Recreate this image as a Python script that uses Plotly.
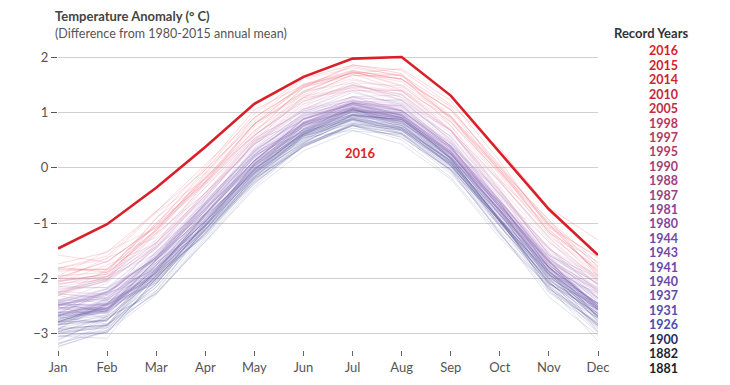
import plotly.graph_objects as go

months = ["Jan", "Feb", "Mar", "Apr", "May", "Jun", "Jul", "Aug", "Sep", "Oct", "Nov", "Dec"]

# seasonal baseline (°C, relative to 1980-2015 annual mean)
baseline = [-2.55, -2.40, -1.70, -0.78, 0.18, 0.84, 1.14, 0.98, 0.32, -0.72, -1.75, -2.42]

# 2016 (bold red line)
values_2016 = [-1.46, -1.02, -0.36, 0.38, 1.16, 1.65, 1.98, 2.01, 1.31, 0.28, -0.75, -1.58]

# monthly departures from the seasonal baseline, one row per year
anom_1880s = [
    [-0.29, -0.18, -0.11, -0.19, -0.11, -0.23, -0.20, -0.10, -0.16, -0.23, -0.20, -0.22],
    [-0.13, -0.16, 0.03, 0.05, 0.05, -0.19, 0.01, -0.03, -0.16, -0.22, -0.18, -0.07],
    [0.16, 0.14, 0.04, -0.16, -0.14, -0.22, -0.16, -0.07, -0.14, -0.24, -0.16, -0.36],
    [-0.29, -0.36, -0.12, -0.18, -0.17, -0.07, -0.07, -0.14, -0.22, -0.11, -0.24, -0.11],
    [-0.13, -0.08, -0.36, -0.40, -0.34, -0.35, -0.31, -0.27, -0.27, -0.25, -0.33, -0.31],
    [-0.58, -0.29, -0.26, -0.42, -0.45, -0.43, -0.33, -0.31, -0.28, -0.23, -0.24, -0.10],
    [-0.43, -0.50, -0.41, -0.28, -0.27, -0.39, -0.18, -0.30, -0.24, -0.26, -0.28, -0.25],
    [-0.68, -0.57, -0.35, -0.35, -0.30, -0.25, -0.25, -0.35, -0.25, -0.35, -0.26, -0.41],
    [-0.34, -0.35, -0.41, -0.20, -0.22, -0.20, -0.10, -0.10, -0.07, 0.01, 0.00, -0.08],
    [-0.09, 0.16, 0.06, 0.10, -0.01, -0.10, -0.08, -0.19, -0.24, -0.26, -0.33, -0.30],
]
anom_1890s = [
    [-0.45, -0.46, -0.40, -0.35, -0.42, -0.27, -0.28, -0.37, -0.34, -0.24, -0.45, -0.30],
    [-0.46, -0.48, -0.18, -0.25, -0.15, -0.21, -0.18, -0.10, -0.15, -0.22, -0.35, -0.03],
    [-0.30, -0.08, -0.39, -0.34, -0.26, -0.26, -0.34, -0.25, -0.19, -0.14, -0.49, -0.38],
    [-0.70, -0.54, -0.24, -0.33, -0.36, -0.24, -0.11, -0.21, -0.22, -0.19, -0.20, -0.33],
    [-0.55, -0.35, -0.27, -0.43, -0.31, -0.38, -0.26, -0.25, -0.23, -0.20, -0.26, -0.25],
    [-0.42, -0.46, -0.27, -0.20, -0.24, -0.19, -0.13, -0.08, -0.13, -0.13, -0.18, -0.15],
    [-0.24, -0.10, -0.23, -0.27, -0.13, -0.09, 0.02, -0.03, -0.02, 0.09, -0.15, -0.10],
    [-0.20, -0.14, -0.12, -0.02, -0.05, -0.14, -0.06, -0.06, -0.05, -0.07, -0.17, -0.26],
    [0.03, -0.33, -0.53, -0.29, -0.34, -0.23, -0.24, -0.24, -0.19, -0.33, -0.36, -0.21],
    [-0.15, -0.43, -0.26, -0.14, -0.17, -0.23, -0.11, -0.01, -0.02, -0.05, 0.06, -0.31],
]
anom_1900s = [
    [-0.38, -0.06, 0.03, -0.05, -0.09, -0.06, -0.09, -0.06, -0.05, 0.08, -0.05, -0.04],
    [-0.24, -0.10, 0.02, -0.05, -0.14, -0.15, -0.14, -0.13, -0.20, -0.23, -0.17, -0.27],
    [-0.12, -0.03, -0.32, -0.27, -0.34, -0.37, -0.28, -0.29, -0.25, -0.31, -0.38, -0.44],
    [-0.24, -0.06, -0.20, -0.46, -0.37, -0.46, -0.37, -0.47, -0.49, -0.49, -0.42, -0.50],
    [-0.65, -0.50, -0.56, -0.55, -0.52, -0.44, -0.42, -0.39, -0.43, -0.33, -0.30, -0.48],
    [-0.50, -0.69, -0.29, -0.33, -0.29, -0.27, -0.24, -0.21, -0.16, -0.22, -0.06, -0.19],
    [-0.28, -0.38, -0.16, -0.07, -0.26, -0.19, -0.21, -0.18, -0.28, -0.20, -0.36, -0.15],
    [-0.50, -0.59, -0.30, -0.37, -0.46, -0.43, -0.38, -0.36, -0.30, -0.21, -0.44, -0.41],
    [-0.42, -0.30, -0.58, -0.47, -0.41, -0.42, -0.36, -0.43, -0.35, -0.47, -0.51, -0.45],
    [-0.64, -0.44, -0.58, -0.56, -0.56, -0.53, -0.47, -0.37, -0.37, -0.42, -0.33, -0.55],
]
anom_1910s = [
    [-0.39, -0.43, -0.46, -0.39, -0.36, -0.40, -0.37, -0.36, -0.39, -0.44, -0.59, -0.62],
    [-0.62, -0.57, -0.60, -0.51, -0.47, -0.45, -0.38, -0.42, -0.35, -0.23, -0.25, -0.28],
    [-0.23, -0.14, -0.38, -0.20, -0.23, -0.29, -0.46, -0.55, -0.52, -0.55, -0.41, -0.43],
    [-0.39, -0.45, -0.46, -0.35, -0.43, -0.45, -0.34, -0.30, -0.33, -0.29, -0.13, -0.14],
    [0.03, -0.14, -0.21, -0.27, -0.19, -0.24, -0.19, -0.14, -0.15, -0.02, -0.13, -0.04],
    [-0.21, -0.05, -0.18, -0.05, -0.05, -0.16, -0.07, -0.15, -0.15, -0.22, -0.10, -0.23],
    [-0.15, -0.19, -0.34, -0.33, -0.37, -0.47, -0.36, -0.34, -0.36, -0.33, -0.46, -0.56],
    [-0.50, -0.55, -0.53, -0.42, -0.39, -0.40, -0.23, -0.21, -0.28, -0.47, -0.40, -0.72],
    [-0.42, -0.33, -0.17, -0.35, -0.36, -0.28, -0.27, -0.28, -0.18, -0.06, -0.14, -0.27],
    [-0.17, -0.23, -0.24, -0.09, -0.28, -0.33, -0.24, -0.27, -0.20, -0.24, -0.39, -0.41],
]
anom_1920s = [
    [-0.13, -0.23, -0.08, -0.26, -0.27, -0.32, -0.26, -0.24, -0.17, -0.25, -0.31, -0.43],
    [0.00, -0.17, -0.20, -0.26, -0.31, -0.22, -0.08, -0.21, -0.14, -0.07, -0.18, -0.18],
    [-0.36, -0.45, -0.13, -0.28, -0.33, -0.26, -0.22, -0.26, -0.28, -0.25, -0.13, -0.23],
    [-0.24, -0.36, -0.25, -0.33, -0.29, -0.18, -0.26, -0.28, -0.25, -0.10, -0.05, -0.07],
    [-0.19, -0.13, -0.02, -0.29, -0.19, -0.30, -0.26, -0.31, -0.27, -0.28, -0.19, -0.35],
    [-0.24, -0.26, -0.15, -0.15, -0.21, -0.24, -0.18, -0.10, -0.15, -0.13, -0.05, -0.13],
    [0.10, 0.00, 0.09, -0.11, -0.19, -0.24, -0.19, -0.10, -0.08, -0.04, -0.05, -0.27],
    [-0.25, -0.14, -0.31, -0.24, -0.22, -0.23, -0.12, -0.16, -0.08, 0.01, -0.04, -0.38],
    [0.01, -0.07, -0.26, -0.29, -0.24, -0.35, -0.17, -0.22, -0.21, -0.17, -0.12, -0.14],
    [-0.45, -0.59, -0.31, -0.40, -0.39, -0.41, -0.36, -0.29, -0.23, -0.20, -0.07, -0.55],
]
anom_1930s = [
    [-0.22, -0.18, -0.02, -0.19, -0.21, -0.15, -0.17, -0.13, -0.12, -0.13, 0.06, -0.10],
    [-0.08, -0.20, -0.05, -0.20, -0.19, -0.08, -0.04, -0.07, -0.05, 0.02, -0.13, -0.03],
    [0.11, -0.23, -0.20, -0.12, -0.20, -0.26, -0.22, -0.13, -0.06, -0.12, -0.23, -0.14],
    [-0.30, -0.29, -0.32, -0.23, -0.25, -0.31, -0.19, -0.17, -0.22, -0.25, -0.31, -0.44],
    [-0.14, 0.00, -0.30, -0.26, -0.09, -0.16, -0.09, -0.10, -0.12, -0.04, 0.00, -0.10],
    [-0.38, 0.06, -0.10, -0.32, -0.26, -0.21, -0.16, -0.17, -0.14, -0.10, -0.29, -0.15],
    [-0.24, -0.37, -0.17, -0.17, -0.14, -0.14, -0.06, -0.07, -0.06, -0.06, -0.09, -0.04],
    [-0.12, 0.02, -0.15, -0.09, -0.04, -0.04, 0.00, 0.05, 0.08, 0.04, 0.03, -0.16],
    [0.07, 0.05, 0.08, 0.07, -0.11, -0.13, -0.04, -0.02, 0.03, 0.13, 0.08, -0.22],
    [-0.08, -0.08, -0.20, -0.06, -0.05, -0.04, -0.05, -0.04, -0.04, 0.02, 0.08, 0.24],
]
anom_1940s = [
    [-0.05, 0.12, 0.11, 0.14, 0.12, 0.09, 0.10, 0.06, 0.12, 0.10, 0.13, 0.33],
    [0.11, 0.21, 0.07, 0.15, 0.15, 0.16, 0.23, 0.17, 0.08, 0.31, 0.18, 0.25],
    [0.27, 0.03, 0.07, 0.11, 0.05, 0.06, 0.00, -0.02, 0.01, 0.00, 0.07, 0.06],
    [-0.07, 0.09, -0.07, 0.15, 0.02, -0.02, 0.08, 0.05, 0.08, 0.26, 0.20, 0.31],
    [0.40, 0.23, 0.25, 0.16, 0.17, 0.14, 0.15, 0.21, 0.25, 0.23, 0.12, 0.07],
    [0.06, -0.06, 0.08, 0.21, 0.06, -0.04, 0.04, 0.26, 0.19, 0.17, 0.01, -0.11],
    [0.15, 0.01, -0.03, 0.05, -0.15, -0.20, -0.06, -0.09, -0.01, -0.04, -0.02, -0.28],
    [-0.09, -0.19, 0.04, 0.04, -0.06, 0.05, -0.05, -0.06, -0.08, 0.09, 0.00, -0.12],
    [0.08, -0.09, -0.20, -0.06, 0.02, -0.06, -0.18, -0.11, -0.10, -0.05, -0.12, -0.27],
    [0.08, -0.20, -0.06, -0.07, -0.10, -0.18, -0.08, -0.08, -0.12, -0.05, -0.11, -0.16],
]
anom_1950s = [
    [-0.30, -0.27, -0.07, -0.20, -0.11, -0.05, -0.08, -0.16, -0.09, -0.19, -0.33, -0.21],
    [-0.36, -0.45, -0.18, -0.06, 0.03, -0.03, 0.03, 0.11, 0.07, 0.09, -0.06, 0.13],
    [0.14, 0.11, -0.12, 0.02, -0.04, -0.02, 0.04, 0.06, 0.07, -0.03, -0.18, -0.03],
    [0.06, 0.14, 0.10, 0.18, 0.11, 0.07, 0.04, 0.06, 0.07, 0.07, -0.02, 0.07],
    [-0.26, -0.07, -0.15, -0.18, -0.22, -0.17, -0.17, -0.11, -0.06, -0.04, 0.06, -0.15],
    [0.13, -0.17, -0.32, -0.23, -0.21, -0.09, -0.11, 0.00, -0.12, -0.07, -0.27, -0.28],
    [-0.11, -0.21, -0.22, -0.25, -0.28, -0.13, -0.13, -0.25, -0.19, -0.25, -0.14, -0.13],
    [-0.12, -0.05, -0.07, 0.01, 0.05, 0.13, 0.04, 0.15, 0.07, 0.03, 0.10, 0.21],
    [0.37, 0.23, 0.05, 0.00, 0.02, -0.08, 0.06, -0.03, -0.03, 0.05, 0.03, 0.04],
    [0.07, 0.09, 0.17, 0.10, 0.00, 0.05, 0.03, -0.01, -0.05, -0.07, -0.08, 0.04],
]
anom_1960s = [
    [-0.01, 0.14, -0.30, -0.14, -0.11, -0.04, -0.03, 0.03, 0.04, 0.00, -0.20, 0.17],
    [0.06, 0.17, 0.08, 0.11, 0.11, 0.10, 0.00, 0.02, 0.04, 0.00, 0.04, -0.08],
    [0.04, 0.15, 0.08, 0.01, -0.05, 0.04, 0.03, 0.00, 0.01, 0.05, 0.05, 0.00],
    [-0.02, 0.17, -0.14, -0.04, -0.05, 0.04, 0.07, 0.19, 0.15, 0.13, 0.12, -0.02],
    [-0.07, -0.12, -0.19, -0.27, -0.23, -0.02, -0.06, -0.26, -0.30, -0.30, -0.21, -0.28],
    [-0.06, -0.15, -0.13, -0.22, -0.12, -0.03, -0.11, -0.04, -0.14, -0.05, -0.05, -0.07],
    [-0.18, -0.02, 0.05, -0.08, -0.09, 0.04, 0.02, -0.08, -0.02, -0.14, -0.05, -0.12],
    [-0.07, -0.18, 0.04, 0.01, 0.10, -0.12, -0.02, -0.03, -0.09, 0.05, -0.05, -0.04],
    [-0.25, -0.20, 0.18, -0.05, -0.12, -0.07, -0.10, -0.07, -0.13, 0.08, -0.07, -0.13],
    [-0.12, -0.13, 0.02, 0.16, 0.13, 0.04, 0.04, 0.04, 0.05, 0.10, 0.11, 0.23],
]
anom_1970s = [
    [0.09, 0.20, 0.04, 0.07, -0.05, -0.01, -0.02, -0.06, 0.06, 0.04, 0.06, -0.11],
    [0.02, -0.16, -0.16, -0.09, -0.07, -0.19, -0.09, 0.02, -0.06, -0.07, -0.04, -0.08],
    [-0.27, -0.15, 0.02, 0.04, -0.05, 0.03, 0.01, 0.15, 0.00, 0.10, 0.04, 0.21],
    [0.28, 0.34, 0.27, 0.28, 0.25, 0.19, 0.07, 0.07, 0.03, 0.06, 0.06, -0.07],
    [-0.14, -0.21, -0.06, -0.06, -0.06, -0.03, -0.09, 0.02, -0.03, -0.13, -0.07, -0.07],
    [0.13, 0.03, 0.12, 0.04, 0.08, -0.01, -0.04, -0.19, -0.01, -0.10, -0.14, -0.16],
    [-0.02, -0.14, -0.23, -0.10, -0.21, -0.13, -0.06, -0.11, -0.05, -0.22, -0.03, 0.11],
    [0.16, 0.21, 0.24, 0.28, 0.24, 0.23, 0.14, 0.06, 0.04, 0.02, 0.29, 0.05],
    [0.05, 0.11, 0.19, 0.12, 0.07, -0.03, 0.05, -0.13, 0.06, 0.00, 0.15, 0.06],
    [0.07, -0.08, 0.18, 0.13, 0.06, 0.16, 0.03, 0.17, 0.26, 0.26, 0.27, 0.48],
]
anom_1980s = [
    [0.29, 0.38, 0.23, 0.30, 0.35, 0.19, 0.30, 0.24, 0.20, 0.12, 0.29, 0.19],
    [0.55, 0.43, 0.51, 0.32, 0.25, 0.31, 0.27, 0.35, 0.15, 0.11, 0.20, 0.40],
    [0.04, 0.14, -0.02, 0.10, 0.15, 0.04, 0.15, 0.07, 0.14, 0.12, 0.16, 0.44],
    [0.51, 0.42, 0.40, 0.27, 0.35, 0.19, 0.15, 0.34, 0.36, 0.19, 0.31, 0.16],
    [0.31, 0.11, 0.28, 0.01, 0.32, 0.00, 0.13, 0.24, 0.18, 0.12, 0.07, -0.11],
    [0.24, -0.08, 0.14, 0.12, 0.13, 0.12, -0.05, 0.15, 0.10, 0.12, 0.07, 0.15],
    [0.29, 0.35, 0.27, 0.23, 0.25, 0.11, 0.09, 0.12, 0.04, 0.13, 0.09, 0.16],
    [0.31, 0.43, 0.14, 0.22, 0.27, 0.32, 0.41, 0.24, 0.35, 0.32, 0.23, 0.46],
    [0.55, 0.38, 0.48, 0.42, 0.41, 0.37, 0.32, 0.41, 0.36, 0.34, 0.16, 0.36],
    [0.13, 0.31, 0.31, 0.33, 0.19, 0.21, 0.34, 0.36, 0.35, 0.29, 0.17, 0.32],
]
anom_1990s = [
    [0.39, 0.40, 0.80, 0.53, 0.41, 0.40, 0.36, 0.35, 0.30, 0.46, 0.49, 0.39],
    [0.42, 0.51, 0.33, 0.52, 0.35, 0.52, 0.48, 0.41, 0.45, 0.30, 0.29, 0.31],
    [0.45, 0.37, 0.35, 0.23, 0.29, 0.23, 0.07, 0.08, -0.02, 0.09, 0.05, 0.20],
    [0.34, 0.37, 0.35, 0.26, 0.27, 0.23, 0.26, 0.13, 0.13, 0.25, 0.04, 0.19],
    [0.27, 0.05, 0.34, 0.43, 0.30, 0.46, 0.31, 0.26, 0.36, 0.49, 0.48, 0.37],
    [0.50, 0.77, 0.44, 0.48, 0.32, 0.43, 0.45, 0.47, 0.36, 0.48, 0.44, 0.28],
    [0.24, 0.44, 0.28, 0.33, 0.23, 0.27, 0.37, 0.30, 0.23, 0.23, 0.41, 0.36],
    [0.30, 0.39, 0.51, 0.32, 0.39, 0.55, 0.40, 0.51, 0.52, 0.62, 0.62, 0.58],
    [0.59, 0.89, 0.61, 0.63, 0.71, 0.77, 0.67, 0.70, 0.44, 0.46, 0.51, 0.57],
    [0.47, 0.64, 0.33, 0.33, 0.29, 0.36, 0.37, 0.30, 0.37, 0.37, 0.40, 0.44],
]
anom_2000s = [
    [0.24, 0.55, 0.58, 0.58, 0.41, 0.37, 0.35, 0.42, 0.39, 0.23, 0.30, 0.31],
    [0.44, 0.44, 0.56, 0.51, 0.57, 0.54, 0.61, 0.50, 0.52, 0.50, 0.70, 0.53],
    [0.73, 0.75, 0.89, 0.57, 0.62, 0.52, 0.61, 0.52, 0.61, 0.52, 0.60, 0.40],
    [0.72, 0.55, 0.57, 0.54, 0.62, 0.48, 0.54, 0.64, 0.61, 0.74, 0.58, 0.72],
    [0.57, 0.70, 0.63, 0.60, 0.41, 0.43, 0.26, 0.42, 0.50, 0.63, 0.72, 0.49],
    [0.71, 0.57, 0.69, 0.70, 0.66, 0.68, 0.63, 0.62, 0.74, 0.78, 0.72, 0.64],
    [0.55, 0.71, 0.62, 0.48, 0.45, 0.62, 0.53, 0.70, 0.63, 0.69, 0.72, 0.78],
    [0.97, 0.69, 0.66, 0.75, 0.61, 0.55, 0.59, 0.58, 0.61, 0.58, 0.55, 0.47],
    [0.24, 0.36, 0.71, 0.50, 0.50, 0.44, 0.56, 0.43, 0.60, 0.65, 0.64, 0.55],
    [0.59, 0.51, 0.52, 0.60, 0.62, 0.64, 0.70, 0.68, 0.72, 0.65, 0.77, 0.63],
]
anom_2010s = [
    [0.73, 0.80, 0.91, 0.84, 0.73, 0.64, 0.62, 0.63, 0.58, 0.72, 0.81, 0.46],
    [0.50, 0.47, 0.59, 0.61, 0.48, 0.61, 0.73, 0.73, 0.55, 0.68, 0.58, 0.61],
    [0.48, 0.48, 0.56, 0.67, 0.74, 0.62, 0.58, 0.63, 0.74, 0.75, 0.74, 0.51],
    [0.68, 0.56, 0.66, 0.52, 0.61, 0.67, 0.59, 0.70, 0.79, 0.69, 0.80, 0.69],
    [0.75, 0.51, 0.78, 0.79, 0.87, 0.66, 0.57, 0.82, 0.90, 0.84, 0.67, 0.81],
    [0.81, 0.87, 0.91, 0.74, 0.80, 0.79, 0.72, 0.79, 0.82, 1.07, 1.03, 1.11],
]

record_years = ["2016", "2015", "2014", "2010", "2005", "1998", "1997", "1995", "1990", "1988",
                "1987", "1981", "1980", "1944", "1943", "1941", "1940", "1937", "1931", "1926",
                "1900", "1882", "1881"]
record_colors = ["#d81e2a", "#d4202e", "#d02232", "#cc2436", "#c42c44", "#b8365a", "#b23a62",
                 "#aa3d6c", "#a24076", "#9c427e", "#964386", "#8c4392", "#84449a", "#7a44a6",
                 "#7444aa", "#6e46ac", "#6a47ae", "#6048ae", "#584aae", "#4e4cac",
                 "#262a5c", "#1f1f2e", "#1c1c2a"]

# ---------------------------------------------------------------
decades = [anom_1880s, anom_1890s, anom_1900s, anom_1910s, anom_1920s, anom_1930s, anom_1940s,
           anom_1950s, anom_1960s, anom_1970s, anom_1980s, anom_1990s, anom_2000s, anom_2010s]
rows = [r for d in decades for r in d]
first_year = 1880

stops = [(0.00, (70, 78, 140)), (0.30, (84, 86, 160)), (0.48, (116, 82, 176)),
         (0.66, (140, 96, 184)), (0.78, (196, 150, 205)), (0.88, (236, 150, 166)),
         (1.00, (238, 100, 112))]


def line_color(t, alpha):
    for (t0, c0), (t1, c1) in zip(stops[:-1], stops[1:]):
        if t0 <= t <= t1:
            f = (t - t0) / (t1 - t0) if t1 > t0 else 0
            c = [round(a + (b - a) * f) for a, b in zip(c0, c1)]
            return f"rgba({c[0]},{c[1]},{c[2]},{alpha})"
    c = stops[-1][1]
    return f"rgba({c[0]},{c[1]},{c[2]},{alpha})"


fig = go.Figure()
n = len(rows)
for i, r in enumerate(rows):
    t = i / (n - 1)
    alpha = 0.17 if t < 0.75 else 0.26
    yvals = [b + a for b, a in zip(baseline, r)]
    fig.add_trace(go.Scatter(
        x=months, y=yvals, mode="lines",
        line=dict(color=line_color(t, alpha), width=1),
        hoverinfo="skip", showlegend=False, name=str(first_year + i)))

fig.add_trace(go.Scatter(x=months, y=values_2016, mode="lines",
                         line=dict(color="#da1f28", width=2.6),
                         showlegend=False, name="2016"))

FONT = "Lato, 'Open Sans', sans-serif"

OFF = 8  # page offset of the figure inside the browser window
L, T = 58 - OFF, 52 - OFF
W, H = 730, 385
pw, ph = 540, 298
R, B = W - L - pw, H - T - ph


def px_x(px):
    return (px - OFF - L) / pw


def px_y(py):
    return (T + ph - (py - OFF)) / ph


ann = []
ann.append(dict(text="<b>Temperature Anomaly (° C)</b>", x=px_x(132), y=px_y(16),
                xref="paper", yref="paper", xanchor="center", yanchor="middle",
                showarrow=False, font=dict(size=13, color="#444", family=FONT)))
ann.append(dict(text="(Difference from 1980-2015 annual mean)", x=px_x(170.5), y=px_y(34),
                xref="paper", yref="paper", xanchor="center", yanchor="middle",
                showarrow=False, font=dict(size=12.5, color="#555", family=FONT)))
ann.append(dict(text="<b>Record Years</b>", x=px_x(651), y=px_y(33),
                xref="paper", yref="paper", xanchor="center", yanchor="middle",
                showarrow=False, font=dict(size=13, color="#333", family=FONT)))
for k, (yr, col) in enumerate(zip(record_years, record_colors)):
    ann.append(dict(text=f"<b>{yr}</b>", x=px_x(663), y=px_y(51 + k * 14.41),
                    xref="paper", yref="paper", xanchor="center", yanchor="middle",
                    showarrow=False, font=dict(size=12.5, color=col, family=FONT)))
ann.append(dict(text="<b>2016</b>", x=6.16, y=0.27, xref="x", yref="y",
                showarrow=False, xanchor="center", yanchor="middle",
                font=dict(size=13, color="#da1f28", family=FONT)))

fig.update_layout(
    width=W, height=H,
    margin=dict(l=L, r=R, t=T, b=B, pad=0),
    paper_bgcolor="white", plot_bgcolor="white",
    font=dict(family=FONT, size=13, color="#555"),
    annotations=ann,
    xaxis=dict(range=[0, 11], showgrid=False, zeroline=False, showline=False,
               ticks="outside", ticklen=5, tickwidth=1, tickcolor="#666",
               tickfont=dict(size=13, color="#555", family=FONT)),
    yaxis=dict(range=[-3.3, 2.1], tickvals=[-3, -2, -1, 0, 1, 2], showgrid=True,
               gridcolor="#d0d0d0", gridwidth=1, zeroline=False, showline=False,
               ticks="outside", ticklen=6, tickwidth=1.2, tickcolor="#555",
               tickfont=dict(size=13, color="#555", family=FONT)),
)

fig.write_html("out.html")
